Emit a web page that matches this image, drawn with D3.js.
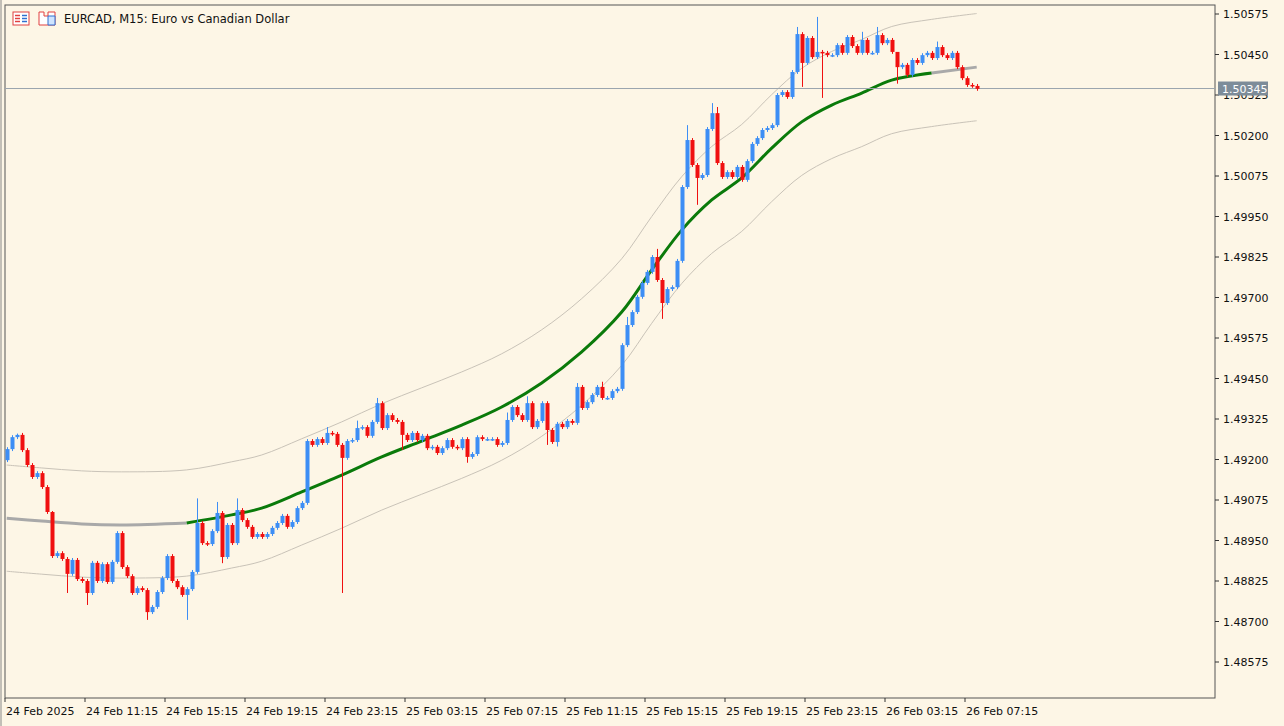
<!DOCTYPE html>
<html><head><meta charset="utf-8">
<script src="https://cdn.jsdelivr.net/npm/d3@7"></script>
<style>body{margin:0;background:#fdf6e6;}svg{display:block;font-family:Tahoma,"DejaVu Sans",sans-serif;}</style>
</head><body>
<svg id="c" width="1284" height="726"></svg>
<script>
const title = "EURCAD, M15:  Euro vs Canadian Dollar";
const timeLabels = ["24 Feb 2025","24 Feb 11:15","24 Feb 15:15","24 Feb 19:15","24 Feb 23:15","25 Feb 03:15","25 Feb 07:15","25 Feb 11:15","25 Feb 15:15","25 Feb 19:15","25 Feb 23:15","26 Feb 03:15","26 Feb 07:15"];
const priceTicks = [1.50575,1.50450,1.50325,1.50200,1.50075,1.49950,1.49825,1.49700,1.49575,1.49450,1.49325,1.49200,1.49075,1.48950,1.48825,1.48700,1.48575];
const firstOpen = 1.49198;
const closes = [1.49232,1.49269,1.49276,1.49229,1.49183,1.49146,1.49158,1.49115,1.49038,1.48902,
1.48911,1.48893,1.48847,1.48890,1.48831,1.48825,1.48788,1.48881,1.48825,1.48877,
1.48822,1.48884,1.48973,1.48868,1.48840,1.48788,1.48803,1.48797,1.48729,1.48745,
1.48791,1.48834,1.48902,1.48825,1.48806,1.48782,1.48800,1.48853,1.49004,1.48942,
1.48939,1.48979,1.49035,1.48899,1.48998,1.48942,1.49044,1.49013,1.48992,1.48961,
1.48970,1.48961,1.48970,1.48989,1.49004,1.49026,1.48992,1.49007,1.49050,1.49066,
1.49257,1.49245,1.49263,1.49251,1.49282,1.49279,1.49245,1.49205,1.49257,1.49260,
1.49297,1.49300,1.49273,1.49316,1.49374,1.49297,1.49337,1.49322,1.49316,1.49276,
1.49260,1.49282,1.49260,1.49273,1.49235,1.49239,1.49220,1.49235,1.49260,1.49239,
1.49235,1.49263,1.49208,1.49217,1.49269,1.49263,1.49263,1.49263,1.49245,1.49251,
1.49322,1.49362,1.49337,1.49322,1.49374,1.49300,1.49319,1.49374,1.49291,1.49254,
1.49310,1.49300,1.49319,1.49313,1.49424,1.49359,1.49377,1.49399,1.49424,1.49390,
1.49390,1.49411,1.49418,1.49553,1.49615,1.49655,1.49702,1.49745,1.49779,1.49825,
1.49754,1.49683,1.49726,1.49732,1.49813,1.50041,1.50186,1.50109,1.50069,1.50078,
1.50220,1.50269,1.50115,1.50072,1.50087,1.50072,1.50103,1.50063,1.50121,1.50174,
1.50192,1.50217,1.50223,1.50232,1.50325,1.50334,1.50319,1.50396,1.50513,1.50424,
1.50501,1.50442,1.50458,1.50455,1.50448,1.50448,1.50479,1.50455,1.50504,1.50476,
1.50455,1.50495,1.50455,1.50455,1.50510,1.50485,1.50495,1.50458,1.50411,1.50418,
1.50387,1.50433,1.50424,1.50448,1.50455,1.50439,1.50473,1.50448,1.50439,1.50455,
1.50411,1.50377,1.50356,1.50353,1.50344];
const highs = [[2,1.49280],[9,1.49041],[38,1.49080],[42,1.49069],[46,1.49080],[64,1.49300],[70,1.49320],[74,1.49390],[100,1.49345],[104,1.49395],[114,1.49436],[119,1.49440],[124,1.49640],[130,1.49850],[136,1.50232],[141,1.50300],[142,1.50288],[158,1.50535],[162,1.50566],[171,1.50520],[174,1.50535],[178,1.50420],[186,1.50490]];
const lows = [[12,1.48788],[16,1.48751],[28,1.48705],[36,1.48705],[43,1.48880],[67,1.48788],[79,1.49230],[92,1.49190],[108,1.49245],[110,1.49240],[131,1.49634],[138,1.49986],[159,1.50350],[163,1.50316],[178,1.50360]];
const maIdx = [0,7,15,23,36,45,51,59,67,75,83,91,99,107,115,123,129,135,141,147,153,159,165,171,177,185,194];
const maVal = [1.49019,1.49010,1.49001,1.48998,1.49004,1.49029,1.49050,1.49100,1.49152,1.49208,1.49257,1.49306,1.49362,1.49436,1.49532,1.49655,1.49785,1.49908,1.50001,1.50069,1.50161,1.50242,1.50294,1.50331,1.50371,1.50393,1.50411];
const envPct = 0.0011;
const lastPrice = 1.50345;

const svg = d3.select("#c");
const L=5, R=1215, T=5, B=698;
svg.append("rect").attr("width",1284).attr("height",726).attr("fill","#fdf6e6");
const x = d3.scaleLinear().domain([0,194]).range([6.7,976.7]);
const y = d3.scaleLinear().domain([1.48575,1.50575]).range([662,14]);

svg.append("rect").attr("x",L).attr("y",T).attr("width",R-L).attr("height",B-T).attr("fill","none").attr("stroke","#555").attr("stroke-width",1);
svg.append("line").attr("x1",1).attr("x2",1).attr("y1",0).attr("y2",726).attr("stroke","#888");

const maPts = maIdx.map((d,i)=>[d,maVal[i]]);
const line = d3.line().x(d=>x(d[0])).y(d=>y(d[1])).curve(d3.curveCatmullRom.alpha(0.5));
const g = svg.append("g");
g.append("path").attr("d",line(maPts.map(d=>[d[0],d[1]*(1+envPct)]))).attr("fill","none").attr("stroke","#c9c3b8").attr("stroke-width",1);
g.append("path").attr("d",line(maPts.map(d=>[d[0],d[1]*(1-envPct)]))).attr("fill","none").attr("stroke","#c9c3b8").attr("stroke-width",1);
const seg = (a,b)=>maPts.filter(d=>d[0]>=a&&d[0]<=b);
g.append("path").attr("d",line(seg(0,36))).attr("fill","none").attr("stroke","#a9a9a9").attr("stroke-width",3);
g.append("path").attr("d",line(seg(36,185))).attr("fill","none").attr("stroke","#0a7a0a").attr("stroke-width",3);
g.append("path").attr("d",line(seg(185,194))).attr("fill","none").attr("stroke","#a9a9a9").attr("stroke-width",3);

svg.append("line").attr("x1",L).attr("x2",R).attr("y1",y(lastPrice)).attr("y2",y(lastPrice)).attr("stroke","#9aa4ad").attr("stroke-width",1);

const hMap=new Map(highs), lMap=new Map(lows);
const cg = svg.append("g");
closes.forEach((c,i)=>{
  const o = i===0?firstOpen:closes[i-1];
  const up = c>=o;
  const col = up?"#3d8ef5":"#f01010";
  const top=Math.max(o,c), bot=Math.min(o,c);
  const hi = hMap.has(i)?hMap.get(i):top+0.00006;
  const lo = lMap.has(i)?lMap.get(i):bot-0.00006;
  const cx = Math.round(x(i))+0.5;
  cg.append("line").attr("x1",cx).attr("x2",cx).attr("y1",y(hi)).attr("y2",y(lo)).attr("stroke",col).attr("stroke-width",1);
  const yt=y(top), yb=y(bot);
  cg.append("rect").attr("x",cx-2).attr("y",yt).attr("width",4).attr("height",Math.max(1.5,yb-yt)).attr("fill",col);
});

const ax = svg.append("g");
priceTicks.forEach(p=>{
  ax.append("line").attr("x1",R).attr("x2",R+4).attr("y1",y(p)).attr("y2",y(p)).attr("stroke","#333");
  ax.append("text").attr("x",R+8).attr("y",y(p)+4).attr("font-size",11).attr("fill","#111").text(p.toFixed(5));
});
ax.append("rect").attr("x",R+3).attr("y",y(lastPrice)-7).attr("width",50).attr("height",14).attr("fill","#7d8c99");
ax.append("text").attr("x",R+7).attr("y",y(lastPrice)+4).attr("font-size",11).attr("fill","#fff").text(lastPrice.toFixed(5));

timeLabels.forEach((t,k)=>{
  const xi = x(k*16)-1.7;
  ax.append("line").attr("x1",xi).attr("x2",xi).attr("y1",B).attr("y2",B+4).attr("stroke","#333");
  ax.append("text").attr("x",xi+1).attr("y",B+17).attr("font-size",11).attr("fill","#111").text(t);
});

const ic = svg.append("g");
ic.append("rect").attr("x",13).attr("y",12).attr("width",16).attr("height",13).attr("fill","#fff").attr("stroke","#e04040");
[15.5,18.5,21.5].forEach(yy=>{ic.append("line").attr("x1",15).attr("x2",20).attr("y1",yy).attr("y2",yy).attr("stroke","#e04040").attr("stroke-width",1.5);ic.append("line").attr("x1",22).attr("x2",27).attr("y1",yy).attr("y2",yy).attr("stroke","#3070d0").attr("stroke-width",1.5);});
ic.append("path").attr("d","M39,12h5v4h4v-4h7v13h-16z").attr("fill","#fff").attr("stroke","#e04040");
ic.append("path").attr("d","M48,16h7v9h-7z").attr("fill","#cfe4ff").attr("stroke","#3070d0");
svg.append("text").attr("x",64).attr("y",23).attr("font-size",11.5).attr("fill","#111").text(title);
</script>
</body></html>
